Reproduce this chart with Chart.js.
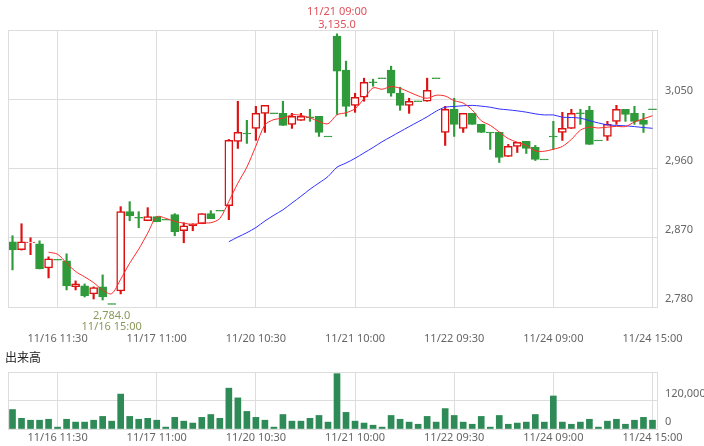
<!DOCTYPE html>
<html><head><meta charset="utf-8">
<script src="https://cdn.jsdelivr.net/npm/chart.js@4/dist/chart.umd.min.js"></script>
<style>
body{margin:0;width:704px;height:446px;background:#fff;position:relative;overflow:hidden;font-family:"Noto Sans",sans-serif}
#p{position:absolute;left:0;top:0;width:704px;height:346px}
#v{position:absolute;left:0;top:358px;width:704px;height:88px}
#lab{position:absolute;left:5px;top:348px;font-size:12px;color:#222;font-family:"Noto Sans CJK JP",sans-serif}
</style></head><body>
<div id="p"><canvas id="cp"></canvas></div>
<div id="v"><canvas id="cv"></canvas></div>
<div id="lab">出来高</div>
<script>
const tickIdx=[5,16,27,38,49,60,71];
const tickLabels=['11/16 11:30','11/17 11:00','11/20 10:30','11/21 10:00','11/22 09:30','11/24 09:00','11/24 15:00'];
const priceTicks=[2780,2870,2960,3050];
const highLabel='11/21 09:00', lowLabel='11/16 15:00';
const opens=[2864.8,2854.5,2863.5,2862.2,2830.9,2841.5,2840,2806.5,2807.4,2797,2806.1,2784,2800.8,2903.9,2896.1,2892.1,2897.4,2893.5,2900,2879.1,2885.6,2888.2,2901.3,2905.2,2911.7,2995.2,3005.6,3012.1,3031.7,3031.7,3031.7,3017.4,3022.6,3026.5,3027.8,3001.7,3132.1,3087.8,3042.1,3052.6,3072.1,3077.4,3087.8,3057.8,3042.1,3047.4,3047.4,3077.4,3006.9,3036.9,3012.1,3031.7,3017.4,3006.9,3006.9,2975.6,2988.7,2995.2,2987.4,2971.7,3001.7,3006.9,3012.1,3031.7,3035.6,2996.5,3001.7,3021.3,3036.9,3031.7,3022.6,3036.9];
const highs=[2872.6,2888.2,2870,2866,2845.2,2841.5,2849.1,2813.9,2810,2806.1,2821.7,2784,2910.4,2916.9,2903.9,2909.1,2897.4,2893.5,2901.3,2889.5,2888.2,2901.3,2905.2,2905.2,2997.8,3047.4,3022.6,3040.8,3042.1,3031.7,3047.4,3031.7,3031.7,3036.9,3027.8,3001.7,3135,3099.5,3057.8,3077.4,3076.1,3077.4,3093,3065.6,3051.3,3047.4,3077.4,3077.4,3040.8,3051.3,3031.7,3031.7,3017.4,3006.9,3006.9,2991.3,2993.9,2995.2,2990,2971.7,3021.3,3033,3036.9,3036.9,3040.8,2996.5,3021.3,3042.1,3036.9,3040.8,3031.7,3036.9];
const lows=[2828.2,2854,2848,2829.5,2817.8,2841.5,2802.2,2802.2,2793,2790.4,2789.1,2784,2797,2892.1,2883,2892.1,2890.8,2893.5,2872.6,2863.5,2879.1,2888.2,2894.8,2905.2,2893.5,2986.1,2992.6,2996.5,3006.9,3031.7,3016,3012.1,3022.6,3021.3,3001.7,3001.7,3030.4,3027.8,3033,3047.4,3066.9,3077.4,3053.9,3035.6,3031.7,3047.4,3047.4,3077.4,2990,3001.7,3006.9,3017.4,3006.9,2984.8,2967.8,2975.6,2980.8,2979.5,2970.4,2971.7,2984.8,2996.5,3012.1,3017.4,2991.3,2996.5,2996.5,3017.4,3021.3,3017.4,3006.9,3036.9];
const closes=[2854.3,2864.8,2864.5,2829.5,2842.6,2841.5,2807.4,2810,2794.3,2805.2,2793,2784,2903.9,2898.7,2896.1,2897.4,2890.8,2893.5,2877.8,2885.6,2888.2,2901.3,2894.8,2905.2,2996.5,3006.9,3005.6,3031.7,3042.1,3031.7,3016,3027.8,3027.8,3026.5,3006.9,3001.7,3086.5,3040.8,3052.6,3072.1,3072.1,3077.4,3057.8,3042.1,3047.4,3047.4,3061.7,3077.4,3036.9,3017.4,3031.7,3017.4,3006.9,3006.9,2974.3,2988.7,2993.9,2986.1,2971.7,2971.7,3001.7,3012.1,3031.7,3031.7,2991.3,2996.5,3017.4,3036.9,3030.4,3021.3,3017.4,3036.9];
const volumes=[82000,45000,37000,37000,41000,8000,41000,29000,29000,37000,53000,33000,147000,53000,41000,45000,37000,8000,49000,33000,25000,49000,61000,45000,172000,131000,74000,49000,37000,8000,61000,33000,33000,45000,57000,29000,233000,70000,33000,25000,16000,8000,57000,41000,29000,20000,53000,29000,86000,57000,29000,20000,53000,8000,57000,20000,25000,29000,61000,29000,139000,29000,20000,29000,41000,8000,33000,41000,20000,37000,49000,37000];
const volTicks=[0,120000];

const N=opens.length;
const cats=Array.from({length:N},(_,i)=>{const k=tickIdx.indexOf(i);return k>=0?tickLabels[k]:'';});
const up=i=>closes[i]>opens[i];
const RED='#dd1111',GREEN='#2f9a3a';
function ma(n){return closes.map((c,i)=>{if(i<n-1)return null;let s=0;for(let j=i-n+1;j<=i;j++)s+=closes[j];return s/n;});}
const fmt=v=>v.toLocaleString('en-US');
const gridCol=ctx=>(ctx.tick&&tickIdx.includes(ctx.tick.value))?'#dddddd':'rgba(0,0,0,0)';
const fitR=s=>{s.width=47;};
const box={id:'box',afterDraw(c){const a=c.chartArea,x=c.ctx;x.save();x.strokeStyle='#dddddd';x.lineWidth=1;x.strokeRect(a.left+0.5,a.top+0.5,a.right-a.left,a.bottom-a.top);x.restore();}};
const notes={id:'notes',afterDraw(c){const x=c.ctx,xs=c.scales.x,ys=c.scales.y;
 let hi=0,lo=0;for(let i=0;i<N;i++){if(highs[i]>highs[hi])hi=i;if(lows[i]<lows[lo])lo=i;}
 x.save();x.font='11px "Noto Sans"';x.textAlign='center';x.textBaseline='alphabetic';
 let px=xs.getPixelForValue(hi),py=ys.getPixelForValue(highs[hi]);
 x.fillStyle='#e0505a';x.fillText(highLabel,px,py-19);x.fillText(highs[hi].toLocaleString('en-US',{minimumFractionDigits:1}),px,py-6);
 px=xs.getPixelForValue(lo);py=ys.getPixelForValue(lows[lo]);
 x.fillStyle='#8a9a5a';x.fillText(lows[lo].toLocaleString('en-US',{minimumFractionDigits:1}),px,py+15);x.fillText(lowLabel,px,py+26);
 x.restore();}};
const xTicks={autoSkip:false,maxRotation:0,color:'#666',font:{size:11,family:'Noto Sans'},callback:(v,i)=>cats[i]};

new Chart(document.getElementById('cp'),{
 data:{labels:cats,datasets:[
  {type:'line',data:ma(5),borderColor:'#ff2a2a',borderWidth:1,pointRadius:0,tension:0.3,order:0},
  {type:'line',data:ma(25),borderColor:'#3030ff',borderWidth:1,pointRadius:0,tension:0.3,order:0},
  {type:'bar',data:opens.map((o,i)=>{let a=o,b=closes[i];if(Math.abs(a-b)<0.8){a-=0.5;b+=0.5;}return [a,b];}),
   backgroundColor:opens.map((o,i)=>up(i)?'#ffffff':GREEN),borderColor:opens.map((o,i)=>up(i)?RED:GREEN),
   borderWidth:1.5,borderSkipped:false,barThickness:8,grouped:false,order:1},
  {type:'bar',data:lows.map((l,i)=>[l,highs[i]]),backgroundColor:opens.map((o,i)=>up(i)?RED:GREEN),
   barThickness:1.5,grouped:false,order:2}
 ]},
 options:{responsive:true,maintainAspectRatio:false,animation:false,layout:{padding:{left:8,top:30,right:0,bottom:0}},
  plugins:{legend:{display:false},tooltip:{enabled:false}},
  scales:{
   x:{type:'category',offset:true,grid:{offset:false,color:gridCol,drawTicks:false},border:{display:false},
      ticks:Object.assign({padding:25},xTicks),afterFit:s=>{s.paddingLeft=0;s.paddingRight=0;s.height=39;}},
   y:{position:'right',min:2780,max:3140,afterFit:fitR,grid:{color:'#dddddd',drawTicks:false},border:{display:false},
      afterBuildTicks:s=>{s.ticks=priceTicks.concat([3140]).map(v=>({value:v}));},
      ticks:{padding:8,labelOffset:-8,color:'#666',font:{size:11,family:'Noto Sans'},callback:v=>priceTicks.includes(v)?fmt(v):''}}
  }},plugins:[box,notes]});

new Chart(document.getElementById('cv'),{
 type:'bar',data:{labels:cats,datasets:[{data:volumes,backgroundColor:'#2e8b57',barThickness:6}]},
 options:{responsive:true,maintainAspectRatio:false,animation:false,layout:{padding:{left:8,top:14,right:0,bottom:0}},
  plugins:{legend:{display:false},tooltip:{enabled:false}},
  scales:{
   x:{grid:{offset:false,color:gridCol,drawTicks:false},border:{display:false},
      ticks:Object.assign({padding:2},xTicks),afterFit:s=>{s.paddingLeft=0;s.paddingRight=0;s.height=17;}},
   y:{position:'right',min:0,max:240000,afterFit:s=>{s.width=47;s.paddingTop=0;},grid:{color:'#dddddd',drawTicks:false},border:{display:false},
      afterBuildTicks:s=>{s.ticks=volTicks.concat([240000]).map(v=>({value:v}));},
      ticks:{padding:8,labelOffset:-7,color:'#666',font:{size:11,family:'Noto Sans'},callback:v=>volTicks.includes(v)?fmt(v):''}}
  }},plugins:[box]});
</script></body></html>
